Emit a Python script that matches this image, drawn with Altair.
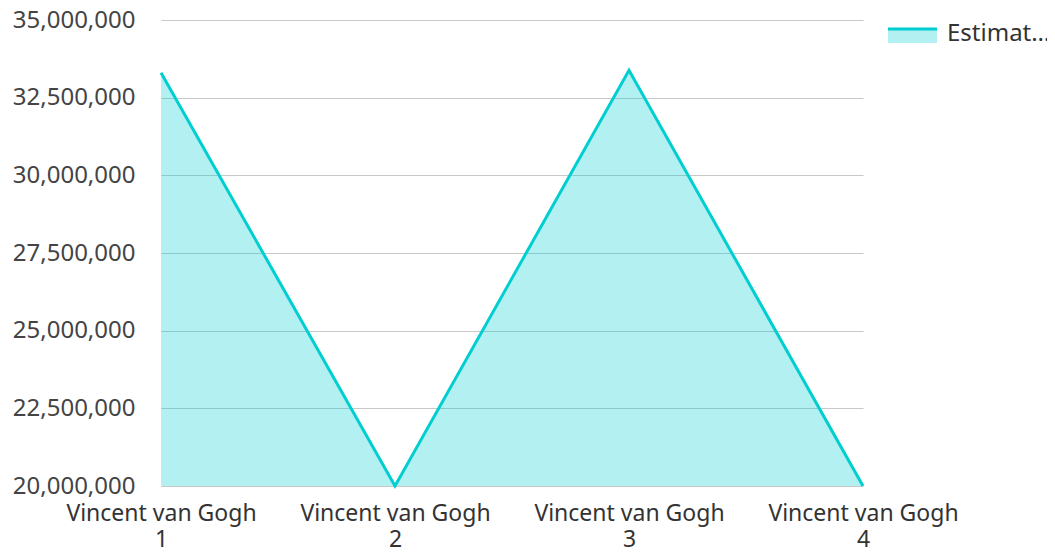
import altair as alt
import pandas as pd

categories = ["Vincent van Gogh\n1", "Vincent van Gogh\n2", "Vincent van Gogh\n3", "Vincent van Gogh\n4"]
values = [33300000, 20000000, 33380000, 20000000]
series_name = "Estimated Value"

df = pd.DataFrame({"cat": categories, "value": values, "series": series_name})

FONT = "Noto Sans"
LINE = "#00CED1"
FS = 24

x = alt.X("cat:N", sort=categories, scale=alt.Scale(type="point", padding=0),
          axis=alt.Axis(title=None, labelExpr="split(datum.label, '\\n')", labelAngle=0,
                        labelFontSize=23, labelFont=FONT, labelColor="#333333", labelLimit=400,
                        labelOverlap=False,
                        labelLineHeight=26, labelPadding=16, ticks=False, domain=False, grid=False))
y = alt.Y("value:Q", scale=alt.Scale(domain=[20000000, 35000000], nice=False, zero=False),
          axis=alt.Axis(title=None, values=[20000000, 22500000, 25000000, 27500000, 30000000, 32500000, 35000000],
                        format=",.0f", labelFontSize=FS, labelFont=FONT, labelColor="#444444",
                        labelPadding=26, ticks=False, domain=False, gridColor="#c8c8c8", gridWidth=1))

area = alt.Chart(df).mark_area(color=LINE, opacity=0.3, clip=True).encode(x=x, y=y)
line = alt.Chart(df).mark_line(color=LINE, strokeWidth=3).encode(x=x, y=y)

leg = pd.DataFrame({"series": [series_name]})
leg_rect = alt.Chart(leg).mark_rect(color=LINE, opacity=0.3).encode(
    x=alt.value(727), x2=alt.value(776), y=alt.value(10), y2=alt.value(23))
leg_rule = alt.Chart(leg).mark_rule(color=LINE, strokeWidth=3).encode(
    x=alt.value(727), x2=alt.value(776), y=alt.value(9))
leg_text = alt.Chart(leg).mark_text(align="left", baseline="middle", fontSize=FS, font=FONT,
                                    color="#333333", limit=106).encode(
    x=alt.value(786), y=alt.value(14), text="series:N")

chart = alt.layer(area, line, leg_rect, leg_rule, leg_text).properties(
    width=702, height=466,
    autosize=alt.AutoSizeParams(type="none"),
    padding={"left": 153, "top": 12, "right": 184, "bottom": 64},
).configure_view(stroke=None)

chart.save("out.html", embed_options={"renderer": "svg", "actions": False})
